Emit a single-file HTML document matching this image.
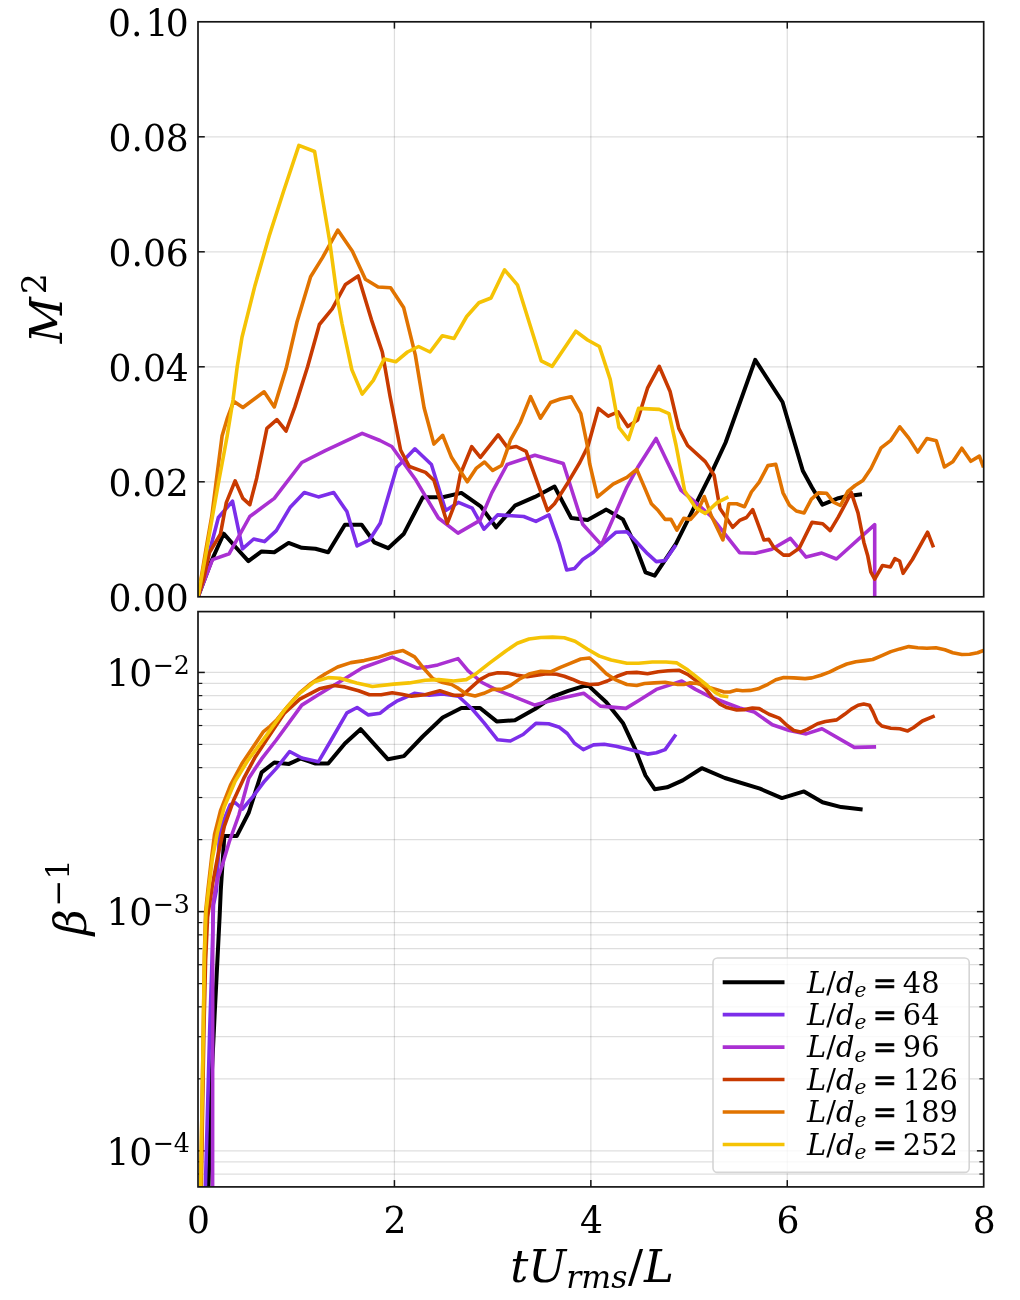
<!DOCTYPE html>
<html lang="en"><head><meta charset="utf-8"><title>M^2 and beta^-1 versus t U_rms / L</title>
<style>html,body{margin:0;padding:0;background:#fff}svg{display:block}text{font-family:'DejaVu Serif','Liberation Serif',serif;fill:#000;font-kerning:none}.i{font-style:italic}</style></head><body>
<svg width="1020" height="1300" viewBox="0 0 1020 1300">
<rect x="0" y="0" width="1020" height="1300" fill="#fff"/>
<defs><clipPath id="ct"><rect x="198.00" y="21.80" width="785.70" height="575.00"/></clipPath>
<clipPath id="cb"><rect x="198.00" y="611.60" width="785.70" height="575.30"/></clipPath></defs>
<g id="grid-top" stroke-opacity="0.128">
<line x1="394.43" y1="21.80" x2="394.43" y2="596.80" stroke="#000" stroke-width="1.25"/>
<line x1="590.85" y1="21.80" x2="590.85" y2="596.80" stroke="#000" stroke-width="1.25"/>
<line x1="787.28" y1="21.80" x2="787.28" y2="596.80" stroke="#000" stroke-width="1.25"/>
<line x1="198.00" y1="481.80" x2="983.70" y2="481.80" stroke="#000" stroke-width="1.25"/>
<line x1="198.00" y1="366.80" x2="983.70" y2="366.80" stroke="#000" stroke-width="1.25"/>
<line x1="198.00" y1="251.80" x2="983.70" y2="251.80" stroke="#000" stroke-width="1.25"/>
<line x1="198.00" y1="136.80" x2="983.70" y2="136.80" stroke="#000" stroke-width="1.25"/>
</g>
<g id="grid-bottom" stroke-opacity="0.128">
<line x1="394.43" y1="611.60" x2="394.43" y2="1186.90" stroke="#000" stroke-width="1.25"/>
<line x1="590.85" y1="611.60" x2="590.85" y2="1186.90" stroke="#000" stroke-width="1.25"/>
<line x1="787.28" y1="611.60" x2="787.28" y2="1186.90" stroke="#000" stroke-width="1.25"/>
<line x1="198.00" y1="1150.84" x2="983.70" y2="1150.84" stroke="#000" stroke-width="1.25"/>
<line x1="198.00" y1="911.64" x2="983.70" y2="911.64" stroke="#000" stroke-width="1.25"/>
<line x1="198.00" y1="672.44" x2="983.70" y2="672.44" stroke="#000" stroke-width="1.25"/>
<line x1="198.00" y1="1174.02" x2="983.70" y2="1174.02" stroke="#000" stroke-width="1.25"/>
<line x1="198.00" y1="1161.79" x2="983.70" y2="1161.79" stroke="#000" stroke-width="1.25"/>
<line x1="198.00" y1="1078.83" x2="983.70" y2="1078.83" stroke="#000" stroke-width="1.25"/>
<line x1="198.00" y1="1036.71" x2="983.70" y2="1036.71" stroke="#000" stroke-width="1.25"/>
<line x1="198.00" y1="1006.83" x2="983.70" y2="1006.83" stroke="#000" stroke-width="1.25"/>
<line x1="198.00" y1="983.65" x2="983.70" y2="983.65" stroke="#000" stroke-width="1.25"/>
<line x1="198.00" y1="964.71" x2="983.70" y2="964.71" stroke="#000" stroke-width="1.25"/>
<line x1="198.00" y1="948.69" x2="983.70" y2="948.69" stroke="#000" stroke-width="1.25"/>
<line x1="198.00" y1="934.82" x2="983.70" y2="934.82" stroke="#000" stroke-width="1.25"/>
<line x1="198.00" y1="922.59" x2="983.70" y2="922.59" stroke="#000" stroke-width="1.25"/>
<line x1="198.00" y1="839.63" x2="983.70" y2="839.63" stroke="#000" stroke-width="1.25"/>
<line x1="198.00" y1="797.51" x2="983.70" y2="797.51" stroke="#000" stroke-width="1.25"/>
<line x1="198.00" y1="767.63" x2="983.70" y2="767.63" stroke="#000" stroke-width="1.25"/>
<line x1="198.00" y1="744.45" x2="983.70" y2="744.45" stroke="#000" stroke-width="1.25"/>
<line x1="198.00" y1="725.51" x2="983.70" y2="725.51" stroke="#000" stroke-width="1.25"/>
<line x1="198.00" y1="709.49" x2="983.70" y2="709.49" stroke="#000" stroke-width="1.25"/>
<line x1="198.00" y1="695.62" x2="983.70" y2="695.62" stroke="#000" stroke-width="1.25"/>
<line x1="198.00" y1="683.39" x2="983.70" y2="683.39" stroke="#000" stroke-width="1.25"/>
</g>
<g id="ticks">
<line x1="394.43" y1="596.80" x2="394.43" y2="590.00" stroke="#141414" stroke-width="1.50"/>
<line x1="394.43" y1="21.80" x2="394.43" y2="28.60" stroke="#141414" stroke-width="1.50"/>
<line x1="590.85" y1="596.80" x2="590.85" y2="590.00" stroke="#141414" stroke-width="1.50"/>
<line x1="590.85" y1="21.80" x2="590.85" y2="28.60" stroke="#141414" stroke-width="1.50"/>
<line x1="787.28" y1="596.80" x2="787.28" y2="590.00" stroke="#141414" stroke-width="1.50"/>
<line x1="787.28" y1="21.80" x2="787.28" y2="28.60" stroke="#141414" stroke-width="1.50"/>
<line x1="394.43" y1="1186.90" x2="394.43" y2="1180.10" stroke="#141414" stroke-width="1.50"/>
<line x1="394.43" y1="611.60" x2="394.43" y2="618.40" stroke="#141414" stroke-width="1.50"/>
<line x1="590.85" y1="1186.90" x2="590.85" y2="1180.10" stroke="#141414" stroke-width="1.50"/>
<line x1="590.85" y1="611.60" x2="590.85" y2="618.40" stroke="#141414" stroke-width="1.50"/>
<line x1="787.28" y1="1186.90" x2="787.28" y2="1180.10" stroke="#141414" stroke-width="1.50"/>
<line x1="787.28" y1="611.60" x2="787.28" y2="618.40" stroke="#141414" stroke-width="1.50"/>
<line x1="198.00" y1="481.80" x2="204.80" y2="481.80" stroke="#141414" stroke-width="1.50"/>
<line x1="983.70" y1="481.80" x2="976.90" y2="481.80" stroke="#141414" stroke-width="1.50"/>
<line x1="198.00" y1="366.80" x2="204.80" y2="366.80" stroke="#141414" stroke-width="1.50"/>
<line x1="983.70" y1="366.80" x2="976.90" y2="366.80" stroke="#141414" stroke-width="1.50"/>
<line x1="198.00" y1="251.80" x2="204.80" y2="251.80" stroke="#141414" stroke-width="1.50"/>
<line x1="983.70" y1="251.80" x2="976.90" y2="251.80" stroke="#141414" stroke-width="1.50"/>
<line x1="198.00" y1="136.80" x2="204.80" y2="136.80" stroke="#141414" stroke-width="1.50"/>
<line x1="983.70" y1="136.80" x2="976.90" y2="136.80" stroke="#141414" stroke-width="1.50"/>
<line x1="198.00" y1="1150.84" x2="204.80" y2="1150.84" stroke="#141414" stroke-width="1.50"/>
<line x1="983.70" y1="1150.84" x2="976.90" y2="1150.84" stroke="#141414" stroke-width="1.50"/>
<line x1="198.00" y1="911.64" x2="204.80" y2="911.64" stroke="#141414" stroke-width="1.50"/>
<line x1="983.70" y1="911.64" x2="976.90" y2="911.64" stroke="#141414" stroke-width="1.50"/>
<line x1="198.00" y1="672.44" x2="204.80" y2="672.44" stroke="#141414" stroke-width="1.50"/>
<line x1="983.70" y1="672.44" x2="976.90" y2="672.44" stroke="#141414" stroke-width="1.50"/>
<line x1="198.00" y1="1174.02" x2="202.30" y2="1174.02" stroke="#141414" stroke-width="1.15"/>
<line x1="983.70" y1="1174.02" x2="979.40" y2="1174.02" stroke="#141414" stroke-width="1.15"/>
<line x1="198.00" y1="1161.79" x2="202.30" y2="1161.79" stroke="#141414" stroke-width="1.15"/>
<line x1="983.70" y1="1161.79" x2="979.40" y2="1161.79" stroke="#141414" stroke-width="1.15"/>
<line x1="198.00" y1="1078.83" x2="202.30" y2="1078.83" stroke="#141414" stroke-width="1.15"/>
<line x1="983.70" y1="1078.83" x2="979.40" y2="1078.83" stroke="#141414" stroke-width="1.15"/>
<line x1="198.00" y1="1036.71" x2="202.30" y2="1036.71" stroke="#141414" stroke-width="1.15"/>
<line x1="983.70" y1="1036.71" x2="979.40" y2="1036.71" stroke="#141414" stroke-width="1.15"/>
<line x1="198.00" y1="1006.83" x2="202.30" y2="1006.83" stroke="#141414" stroke-width="1.15"/>
<line x1="983.70" y1="1006.83" x2="979.40" y2="1006.83" stroke="#141414" stroke-width="1.15"/>
<line x1="198.00" y1="983.65" x2="202.30" y2="983.65" stroke="#141414" stroke-width="1.15"/>
<line x1="983.70" y1="983.65" x2="979.40" y2="983.65" stroke="#141414" stroke-width="1.15"/>
<line x1="198.00" y1="964.71" x2="202.30" y2="964.71" stroke="#141414" stroke-width="1.15"/>
<line x1="983.70" y1="964.71" x2="979.40" y2="964.71" stroke="#141414" stroke-width="1.15"/>
<line x1="198.00" y1="948.69" x2="202.30" y2="948.69" stroke="#141414" stroke-width="1.15"/>
<line x1="983.70" y1="948.69" x2="979.40" y2="948.69" stroke="#141414" stroke-width="1.15"/>
<line x1="198.00" y1="934.82" x2="202.30" y2="934.82" stroke="#141414" stroke-width="1.15"/>
<line x1="983.70" y1="934.82" x2="979.40" y2="934.82" stroke="#141414" stroke-width="1.15"/>
<line x1="198.00" y1="922.59" x2="202.30" y2="922.59" stroke="#141414" stroke-width="1.15"/>
<line x1="983.70" y1="922.59" x2="979.40" y2="922.59" stroke="#141414" stroke-width="1.15"/>
<line x1="198.00" y1="839.63" x2="202.30" y2="839.63" stroke="#141414" stroke-width="1.15"/>
<line x1="983.70" y1="839.63" x2="979.40" y2="839.63" stroke="#141414" stroke-width="1.15"/>
<line x1="198.00" y1="797.51" x2="202.30" y2="797.51" stroke="#141414" stroke-width="1.15"/>
<line x1="983.70" y1="797.51" x2="979.40" y2="797.51" stroke="#141414" stroke-width="1.15"/>
<line x1="198.00" y1="767.63" x2="202.30" y2="767.63" stroke="#141414" stroke-width="1.15"/>
<line x1="983.70" y1="767.63" x2="979.40" y2="767.63" stroke="#141414" stroke-width="1.15"/>
<line x1="198.00" y1="744.45" x2="202.30" y2="744.45" stroke="#141414" stroke-width="1.15"/>
<line x1="983.70" y1="744.45" x2="979.40" y2="744.45" stroke="#141414" stroke-width="1.15"/>
<line x1="198.00" y1="725.51" x2="202.30" y2="725.51" stroke="#141414" stroke-width="1.15"/>
<line x1="983.70" y1="725.51" x2="979.40" y2="725.51" stroke="#141414" stroke-width="1.15"/>
<line x1="198.00" y1="709.49" x2="202.30" y2="709.49" stroke="#141414" stroke-width="1.15"/>
<line x1="983.70" y1="709.49" x2="979.40" y2="709.49" stroke="#141414" stroke-width="1.15"/>
<line x1="198.00" y1="695.62" x2="202.30" y2="695.62" stroke="#141414" stroke-width="1.15"/>
<line x1="983.70" y1="695.62" x2="979.40" y2="695.62" stroke="#141414" stroke-width="1.15"/>
<line x1="198.00" y1="683.39" x2="202.30" y2="683.39" stroke="#141414" stroke-width="1.15"/>
<line x1="983.70" y1="683.39" x2="979.40" y2="683.39" stroke="#141414" stroke-width="1.15"/>
</g>
<g id="curves-top" clip-path="url(#ct)">
<polyline points="198.0,596.8 211.0,562.0 223.7,533.7 236.0,547.5 248.4,561.2 261.6,551.4 274.3,552.2 288.6,542.9 301.8,547.8 315.5,548.8 328.2,552.2 344.9,524.7 361.6,524.7 374.3,542.4 388.2,548.2 403.9,533.7 422.7,497.3 442.7,497.3 461.4,492.9 481.0,506.7 496.1,527.3 514.9,505.7 534.9,496.9 554.5,486.5 571.2,518.0 587.6,520.0 606.3,509.6 622.9,519.4 634.7,543.9 645.5,572.4 654.7,575.7 675.9,543.9 695.5,504.7 711.2,473.3 725.6,442.5 755.2,359.8 782.5,402.0 802.8,470.8 812.0,487.5 822.4,504.7 838.4,498.2 846.3,496.3 862.0,494.3" fill="none" stroke="#000000" stroke-width="4.00" stroke-linejoin="round" stroke-linecap="butt"/>
<polyline points="198.0,596.8 209.6,551.0 218.4,517.5 232.5,501.2 242.5,548.8 253.7,539.0 264.5,541.6 276.3,530.6 290.0,507.6 304.3,492.5 318.4,496.9 333.7,492.5 346.9,511.6 357.1,545.9 369.4,540.0 380.2,523.3 396.7,467.5 414.9,448.8 431.4,464.5 445.7,510.6 458.4,502.4 472.2,508.2 483.9,529.2 497.6,514.9 523.7,516.5 535.9,521.4 549.0,514.9 559.4,543.9 566.7,570.0 574.5,568.4 582.7,559.6 593.5,552.2 601.4,544.9 616.1,532.2 626.9,531.8 634.7,540.0 647.5,553.7 656.3,561.6 665.1,560.6 675.9,544.9" fill="none" stroke="#7c2eea" stroke-width="3.60" stroke-linejoin="round" stroke-linecap="butt"/>
<polyline points="198.0,596.8 212.5,559.6 229.2,553.7 249.8,516.5 274.3,498.4 301.8,462.5 325.3,450.7 362.2,433.3 380.0,440.5 391.8,446.5 415.3,479.2 438.4,518.0 458.0,533.1 480.0,520.4 491.8,492.9 507.1,464.5 534.9,455.3 563.3,463.5 582.7,524.3 601.4,544.9 626.9,487.1 637.6,467.5 656.1,438.5 680.8,490.0 695.5,502.4 711.2,516.5 739.6,552.7 755.3,553.3 771.8,549.2 790.4,538.4 806.1,557.1 821.8,553.1 836.5,559.0 874.7,524.7 874.7,596.5" fill="none" stroke="#aa30d2" stroke-width="3.60" stroke-linejoin="round" stroke-linecap="butt"/>
<polyline points="198.0,596.8 203.5,579.7 209.4,552.6 220.4,534.3 226.3,502.7 235.1,480.8 242.9,498.4 249.8,504.7 256.7,478.2 262.5,450.0 266.9,428.4 276.9,419.6 286.1,431.0 294.9,406.9 307.6,366.7 319.4,324.5 332.2,308.9 345.5,284.4 358.2,276.0 371.4,319.6 382.3,352.0 390.0,396.0 400.6,450.0 402.5,453.7 409.4,466.5 425.5,472.4 433.9,480.2 447.3,523.3 454.5,504.7 460.4,474.3 471.7,446.7 480.4,457.3 498.2,434.9 507.9,448.1 516.3,446.5 526.1,451.4 547.6,510.6 554.5,503.7 568.2,482.2 579.8,462.5 588.0,446.0 598.4,408.4 608.2,416.1 618.0,411.8 627.8,426.5 637.6,420.0 647.5,388.2 659.2,366.3 670.0,391.2 678.8,428.4 687.6,445.5 705.3,461.6 714.1,475.3 720.0,508.6 732.7,527.3 739.6,520.4 746.5,517.5 752.7,509.6 763.9,540.0 768.8,539.4 773.7,547.3 783.5,555.1 789.4,555.1 799.2,548.2 812.0,522.4 822.7,523.7 830.2,530.6 838.4,516.9 846.3,502.2 851.2,492.4 858.0,512.9 863.9,542.4 867.8,556.1 870.8,571.8 874.7,579.2 882.5,565.5 890.4,566.9 894.9,558.6 899.6,561.0 903.1,573.3 912.4,559.5 927.6,532.2 933.5,547.3" fill="none" stroke="#c83a00" stroke-width="3.60" stroke-linejoin="round" stroke-linecap="butt"/>
<polyline points="198.0,596.8 206.0,549.0 211.9,515.4 216.2,481.5 222.1,435.8 227.1,418.9 233.6,401.3 242.9,407.5 264.1,391.8 274.3,406.9 286.1,368.6 297.0,322.0 310.6,276.8 322.5,257.6 337.8,230.1 352.4,251.3 365.4,279.3 378.1,287.0 390.6,287.7 403.6,307.4 415.3,354.9 424.1,407.8 433.9,444.1 442.7,435.3 451.6,457.6 467.3,481.8 476.1,468.4 484.5,462.0 492.7,470.4 501.6,465.5 506.5,451.8 510.4,440.2 520.2,422.5 530.6,396.7 540.4,418.2 550.6,402.5 560.4,399.0 571.2,396.7 580.8,413.7 587.2,445.0 589.6,463.5 597.5,496.9 613.1,484.1 626.9,477.3 636.7,469.4 643.5,485.1 651.4,503.7 658.2,510.6 665.1,519.4 671.0,519.4 676.9,530.2 683.7,518.4 690.6,519.4 697.5,511.6 704.3,496.5 711.2,515.5 722.9,540.0 728.8,503.7 736.7,503.7 744.5,506.7 751.4,492.0 759.2,482.2 767.9,465.6 775.8,464.4 783.0,492.8 789.4,505.1 796.3,511.0 804.1,512.9 811.4,499.2 818.4,492.9 826.7,493.3 833.5,502.2 840.4,505.5 847.8,491.4 855.1,485.5 862.9,480.6 871.0,468.5 881.1,447.8 890.8,440.3 899.8,426.8 908.8,438.1 917.8,452.1 926.9,438.5 936.3,440.8 944.4,467.0 952.8,461.8 961.8,448.2 970.8,461.3 979.4,456.1 983.5,467.4" fill="none" stroke="#e17300" stroke-width="3.60" stroke-linejoin="round" stroke-linecap="butt"/>
<polyline points="198.0,596.8 206.8,549.2 212.6,515.5 218.7,481.5 224.6,450.0 227.2,435.8 233.0,400.0 237.2,366.7 242.0,337.3 255.0,285.4 269.6,234.6 283.5,191.5 298.9,145.4 314.6,151.5 329.6,240.8 337.6,300.0 342.0,323.5 351.8,369.6 362.2,394.1 373.3,380.4 384.2,359.0 395.7,361.8 407.5,352.0 418.6,346.5 430.0,352.0 442.4,335.7 454.1,338.4 466.7,316.5 478.9,302.7 491.0,298.0 504.6,269.8 517.6,285.2 541.2,360.8 552.2,366.3 575.8,331.2 587.6,340.0 599.4,346.5 610.2,379.4 619.0,427.5 628.4,439.6 638.6,408.4 659.2,409.4 669.0,413.7 676.0,445.0 678.8,459.6 684.7,491.0 695.5,507.6 705.3,513.5 717.1,502.7 728.4,496.9" fill="none" stroke="#f5c305" stroke-width="3.60" stroke-linejoin="round" stroke-linecap="butt"/>
</g>
<g id="curves-bottom" clip-path="url(#cb)">
<polyline points="208.5,1187.0 211.5,1080.0 214.6,1015.5 216.5,978.5 219.6,917.0 220.8,890.0 224.3,836.1 236.7,836.1 248.8,812.5 261.6,772.4 274.3,762.5 289.0,763.9 300.8,758.5 315.5,763.5 328.2,763.5 344.9,743.5 360.6,729.2 388.0,759.3 403.9,756.1 422.7,736.5 442.7,717.5 461.4,708.0 480.0,708.0 496.7,721.4 514.9,720.2 534.9,709.0 553.5,696.3 568.2,690.8 587.6,684.9 606.3,702.2 622.9,722.9 634.7,748.1 645.5,775.5 654.7,789.2 667.1,787.3 682.7,780.4 701.8,768.2 724.9,778.0 760.0,788.7 781.9,798.1 804.0,791.4 822.5,802.2 841.2,807.1 862.6,809.4" fill="none" stroke="#000000" stroke-width="4.00" stroke-linejoin="round" stroke-linecap="butt"/>
<polyline points="205.4,1187.0 209.7,1030.0 212.0,960.0 213.5,905.0 216.5,890.0 219.4,836.1 223.3,821.4 230.2,804.7 235.1,802.7 242.5,809.0 252.7,796.9 264.5,781.2 276.3,768.4 289.6,751.5 301.8,758.0 318.4,761.8 331.2,740.0 346.9,712.9 357.1,707.5 368.4,714.9 380.2,713.2 387.8,707.1 396.7,701.2 405.5,697.3 414.3,693.3 429.0,695.3 442.7,693.9 458.4,696.3 472.2,709.0 483.9,722.7 497.6,739.8 510.4,741.0 523.1,734.5 535.9,723.3 548.6,723.7 559.4,727.3 567.3,733.5 574.5,743.3 583.3,749.6 593.5,744.9 604.3,744.3 616.1,746.3 626.9,748.8 637.6,751.6 647.5,754.1 656.3,752.7 665.1,749.6 675.9,734.5" fill="none" stroke="#7c2eea" stroke-width="3.60" stroke-linejoin="round" stroke-linecap="butt"/>
<polyline points="212.6,1187.0 212.7,960.0 212.9,905.0 215.2,890.0 217.3,880.0 222.2,865.5 229.2,842.0 239.0,814.5 248.8,778.2 261.6,758.9 276.3,740.0 301.8,705.1 317.5,695.3 339.0,682.2 362.5,667.8 392.2,657.1 417.3,668.2 427.1,666.9 437.8,664.9 458.0,658.6 468.2,670.8 482.0,682.5 497.6,690.4 513.3,696.3 534.9,705.1 546.7,701.8 563.3,697.8 583.7,693.3 600.4,706.1 625.9,708.4 637.6,701.2 656.3,689.4 681.8,681.0 695.5,689.4 711.2,697.3 739.6,708.0 754.3,712.0 772.4,724.8 789.3,730.5 806.2,733.9 822.0,728.7 854.3,747.4 876.1,746.9" fill="none" stroke="#aa30d2" stroke-width="3.60" stroke-linejoin="round" stroke-linecap="butt"/>
<polyline points="201.3,1187.0 203.9,1030.0 205.6,960.0 207.6,917.0 212.6,884.0 217.5,857.6 224.3,826.3 233.4,800.8 244.3,777.3 254.9,757.6 268.4,737.0 284.1,713.4 299.8,699.1 319.4,688.8 334.1,685.5 344.9,686.9 358.6,690.8 369.4,694.7 381.2,694.7 392.2,692.7 401.6,694.3 411.4,696.3 425.1,694.7 439.8,690.8 453.5,695.3 462.4,695.3 470.2,688.4 480.0,679.6 488.8,674.7 497.6,672.7 507.5,673.1 516.3,675.1 527.1,676.7 536.9,675.1 546.7,673.7 556.5,674.3 564.3,676.3 572.2,679.2 579.8,682.5 589.6,684.5 598.4,684.1 607.3,681.0 617.1,676.3 626.9,672.7 636.7,672.4 647.5,673.7 658.2,671.8 668.0,670.8 678.8,670.2 687.6,674.3 697.5,681.6 705.3,688.4 713.1,698.2 720.0,704.1 726.9,707.6 736.7,710.0 744.5,709.6 752.4,708.0 759.2,708.6 769.0,714.3 779.2,718.1 787.1,725.5 793.8,730.5 800.6,732.1 807.4,729.4 817.5,723.7 825.4,721.5 836.7,719.9 844.6,714.3 851.3,709.1 858.1,705.2 863.7,704.1 869.4,705.2 872.7,711.3 877.3,721.9 881.8,726.0 890.8,728.2 899.8,728.7 907.7,730.9 913.3,727.8 922.4,721.0 934.7,715.8" fill="none" stroke="#c83a00" stroke-width="3.60" stroke-linejoin="round" stroke-linecap="butt"/>
<polyline points="200.7,1187.0 203.2,1035.0 204.4,955.0 205.6,912.0 207.9,890.0 211.6,857.6 214.6,834.1 220.5,810.6 230.5,785.1 242.0,763.5 263.5,731.6 270.0,726.3 276.3,720.3 288.0,705.9 299.4,693.1 311.0,683.5 318.0,678.6 325.9,673.5 337.6,667.0 350.9,662.6 364.1,660.6 377.4,657.6 390.6,653.2 403.1,650.6 414.6,656.8 424.1,668.8 432.9,678.6 442.7,682.5 451.6,684.5 458.4,688.4 466.3,693.9 475.1,695.9 483.9,693.3 492.7,689.4 501.6,689.4 510.4,685.5 520.2,678.6 530.0,673.7 540.8,671.2 550.6,671.8 560.4,667.3 570.2,663.4 580.8,659.0 589.6,658.0 597.5,664.9 606.3,673.7 615.1,679.6 626.9,684.5 636.7,685.5 644.5,683.5 654.3,682.9 665.1,682.2 677.8,684.5 683.7,684.5 689.6,682.9 697.5,683.5 707.3,686.9 716.1,689.4 723.9,692.0 729.8,692.0 736.7,690.0 742.5,690.8 750.4,690.4 758.2,688.8 767.9,684.3 775.8,679.8 783.7,677.5 793.8,677.9 805.1,678.6 811.9,677.9 820.9,675.2 829.9,671.9 837.8,667.8 846.8,664.0 855.8,661.7 864.8,660.6 872.7,659.5 881.8,655.6 890.8,651.6 899.8,648.9 908.8,646.6 917.8,647.7 926.9,648.2 935.9,647.7 944.9,649.8 952.8,652.7 961.8,654.5 969.7,654.3 977.6,652.7 983.5,650.4" fill="none" stroke="#e17300" stroke-width="3.60" stroke-linejoin="round" stroke-linecap="butt"/>
<polyline points="200.7,1187.0 203.3,1030.0 204.5,954.0 206.0,912.0 208.6,890.0 212.5,857.6 217.5,832.2 224.3,806.7 235.1,781.2 247.5,761.0 267.0,734.6 284.7,709.9 299.4,693.6 314.6,681.7 328.2,677.6 340.0,678.2 356.7,682.9 372.4,686.5 393.7,684.1 409.4,682.9 425.1,680.2 438.8,679.6 453.5,681.0 466.3,679.6 476.1,673.7 489.8,662.9 505.5,651.2 517.3,643.3 529.0,639.0 540.8,637.5 552.5,637.1 564.3,637.8 575.0,641.2 587.6,649.2 599.4,656.1 611.2,660.0 626.9,663.3 638.6,663.3 652.4,662.0 666.1,662.0 676.9,662.9 687.6,669.8 697.5,677.6 707.3,685.5 715.1,692.4 721.0,695.7 728.4,696.7" fill="none" stroke="#f5c305" stroke-width="3.60" stroke-linejoin="round" stroke-linecap="butt"/>
</g>
<g id="legend">
<rect x="713.0" y="958.0" width="256.2" height="214.4" rx="4.5" ry="4.5" fill="#fff" fill-opacity="0.8" stroke="#d0d0d0" stroke-opacity="0.9" stroke-width="1.6"/>
<line x1="722.70" y1="982.20" x2="784.50" y2="982.20" stroke="#000000" stroke-width="4.00"/>
<text transform="translate(807.10,992.50) scale(1,1.030)" font-size="28.90"><tspan class="i">L</tspan>/<tspan class="i">d</tspan><tspan class="i" font-size="20.23" dy="4.2">e </tspan><tspan x="65.6" dy="-4.2" stroke="#000" stroke-width="0.7">= </tspan><tspan x="95.7">48</tspan></text>
<line x1="722.70" y1="1014.65" x2="784.50" y2="1014.65" stroke="#7c2eea" stroke-width="3.60"/>
<text transform="translate(807.10,1024.95) scale(1,1.030)" font-size="28.90"><tspan class="i">L</tspan>/<tspan class="i">d</tspan><tspan class="i" font-size="20.23" dy="4.2">e </tspan><tspan x="65.6" dy="-4.2" stroke="#000" stroke-width="0.7">= </tspan><tspan x="95.7">64</tspan></text>
<line x1="722.70" y1="1047.10" x2="784.50" y2="1047.10" stroke="#aa30d2" stroke-width="3.60"/>
<text transform="translate(807.10,1057.40) scale(1,1.030)" font-size="28.90"><tspan class="i">L</tspan>/<tspan class="i">d</tspan><tspan class="i" font-size="20.23" dy="4.2">e </tspan><tspan x="65.6" dy="-4.2" stroke="#000" stroke-width="0.7">= </tspan><tspan x="95.7">96</tspan></text>
<line x1="722.70" y1="1079.55" x2="784.50" y2="1079.55" stroke="#c83a00" stroke-width="3.60"/>
<text transform="translate(807.10,1089.85) scale(1,1.030)" font-size="28.90"><tspan class="i">L</tspan>/<tspan class="i">d</tspan><tspan class="i" font-size="20.23" dy="4.2">e </tspan><tspan x="65.6" dy="-4.2" stroke="#000" stroke-width="0.7">= </tspan><tspan x="95.7">126</tspan></text>
<line x1="722.70" y1="1112.00" x2="784.50" y2="1112.00" stroke="#e17300" stroke-width="3.60"/>
<text transform="translate(807.10,1122.30) scale(1,1.030)" font-size="28.90"><tspan class="i">L</tspan>/<tspan class="i">d</tspan><tspan class="i" font-size="20.23" dy="4.2">e </tspan><tspan x="65.6" dy="-4.2" stroke="#000" stroke-width="0.7">= </tspan><tspan x="95.7">189</tspan></text>
<line x1="722.70" y1="1144.45" x2="784.50" y2="1144.45" stroke="#f5c305" stroke-width="3.60"/>
<text transform="translate(807.10,1154.75) scale(1,1.030)" font-size="28.90"><tspan class="i">L</tspan>/<tspan class="i">d</tspan><tspan class="i" font-size="20.23" dy="4.2">e </tspan><tspan x="65.6" dy="-4.2" stroke="#000" stroke-width="0.7">= </tspan><tspan x="95.7">252</tspan></text>
</g>
<rect x="198.00" y="21.80" width="785.70" height="575.00" fill="none" stroke="#141414" stroke-width="1.70"/>
<rect x="198.00" y="611.60" width="785.70" height="575.30" fill="none" stroke="#141414" stroke-width="1.70"/>
<g id="ticklabels" font-size="36.10">
<text transform="translate(188.80,610.90) scale(1,1.030)" text-anchor="end">0.00</text>
<text transform="translate(188.80,495.90) scale(1,1.030)" text-anchor="end">0.02</text>
<text transform="translate(188.80,380.90) scale(1,1.030)" text-anchor="end">0.04</text>
<text transform="translate(188.80,265.90) scale(1,1.030)" text-anchor="end">0.06</text>
<text transform="translate(188.80,150.90) scale(1,1.030)" text-anchor="end">0.08</text>
<text transform="translate(188.80,35.90) scale(1,1.030)" text-anchor="end">0.<tspan dx="3">1</tspan><tspan dx="-2.6">0</tspan></text>
<text transform="translate(106.40,686.24) scale(1,1.030)">10<tspan font-size="25.27" dy="-12.3" dx="0.4">−2</tspan></text>
<text transform="translate(106.40,925.44) scale(1,1.030)">10<tspan font-size="25.27" dy="-12.3" dx="0.4">−3</tspan></text>
<text transform="translate(106.40,1164.64) scale(1,1.030)">10<tspan font-size="25.27" dy="-12.3" dx="0.4">−4</tspan></text>
<text transform="translate(198.60,1232.90) scale(1,1.030)" text-anchor="middle">0</text>
<text transform="translate(395.03,1232.90) scale(1,1.030)" text-anchor="middle">2</text>
<text transform="translate(591.45,1232.90) scale(1,1.030)" text-anchor="middle">4</text>
<text transform="translate(787.88,1232.90) scale(1,1.030)" text-anchor="middle">6</text>
<text transform="translate(984.30,1232.90) scale(1,1.030)" text-anchor="middle">8</text>
</g>
<g id="axislabels" font-size="45.00">
<text x="510.2" y="1282.4"><tspan class="i">tU</tspan><tspan class="i" font-size="31.50" dy="5.6">rms</tspan><tspan dy="-5.6" dx="0.8">/</tspan><tspan class="i" dx="0.6">L</tspan></text>
<text transform="translate(61.6,343.2) rotate(-90)"><tspan class="i">M</tspan><tspan font-size="33.00" dy="-15.6" dx="2.8">2</tspan></text>
<text transform="translate(86.3,935.2) rotate(-90)"><tspan class="i">β</tspan><tspan font-size="32.30" dy="-17" dx="2.3">−1</tspan></text>
</g>
</svg></body></html>
